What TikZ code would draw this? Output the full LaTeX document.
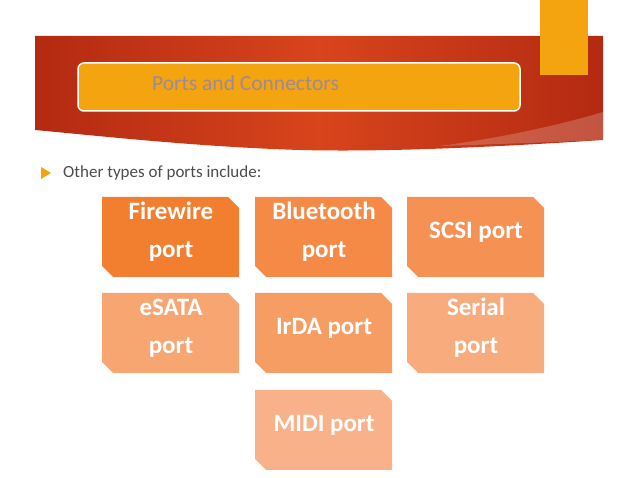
\documentclass[tikz,border=0pt]{standalone}
\usepackage{fontspec}
\setmainfont{Carlito}
\usetikzlibrary{shadings}
\definecolor{bannerred}{HTML}{B32A12}
\definecolor{bannermid}{HTML}{D8441C}
\definecolor{titleorange}{HTML}{F4A40E}
\definecolor{titletext}{HTML}{9B8A9A}
\definecolor{cA}{HTML}{F27E30}
\definecolor{cB}{HTML}{F48A45}
\definecolor{cC}{HTML}{F59152}
\definecolor{cD}{HTML}{F7A571}
\definecolor{cE}{HTML}{F69D63}
\definecolor{cF}{HTML}{F8AC7D}
\definecolor{cG}{HTML}{F9B189}
\begin{document}
\begin{tikzpicture}[x=1pt,y=-1pt,
  port/.style={text=white, font=\bfseries\fontsize{25}{30}\selectfont, align=center, inner sep=0pt}]
\useasboundingbox (0,0) rectangle (638,478);
% banner
\shade[left color=bannerred, right color=bannerred, middle color=bannermid]
  (35,36) -- (603,36) -- (603,140) .. controls (480,148) and (380,152) .. (300,150)
  .. controls (200,147) and (100,136) .. (35,130) -- cycle;
\fill[white,opacity=0.2] (603,112) .. controls (560,125) and (500,138) .. (440,146)
  .. controls (500,144) and (560,142) .. (603,140) -- cycle;
\fill[titleorange] (540,0) rectangle (588,75);
% title
\node (title) [draw=white, line width=1.5pt, rounded corners=6pt, fill=titleorange,
  minimum width=442pt, minimum height=48pt] at (299,87) {};
\node (ttext) [text=titletext, font=\fontsize{21.5}{24}\selectfont, anchor=west, inner sep=0pt] at (152,83) {Ports and Connectors};
% bullet
\fill[titleorange] (41,167) -- (51,173) -- (41,179) -- cycle;
\node (bullet) [anchor=west, font=\fontsize{17}{20}\selectfont, text=black!70, inner sep=0pt] at (63,173) {Other types of ports include:};
% port boxes
\foreach \n/\x/\y/\c/\t in {a/102/197/cA/{Firewire\\[8pt]port}, b/255/197/cB/{Bluetooth\\[8pt]port},
   c/407/197/cC/{SCSI port}, d/102/293/cD/{eSATA\\[8pt]port}, e/255/293/cE/{IrDA port},
   f/407/293/cF/{Serial\\[8pt]port}, g/255/390/cG/{MIDI port}}{
  \fill[\c] (\x,\y) -- ({\x+126},\y) -- ({\x+137},{\y+11}) -- ({\x+137},{\y+80})
    -- ({\x+11},{\y+80}) -- (\x,{\y+69}) -- cycle;
  \node (\n) [port] at ({\x+69},{\y+35}) {\t};
}
\end{tikzpicture}
\end{document}
